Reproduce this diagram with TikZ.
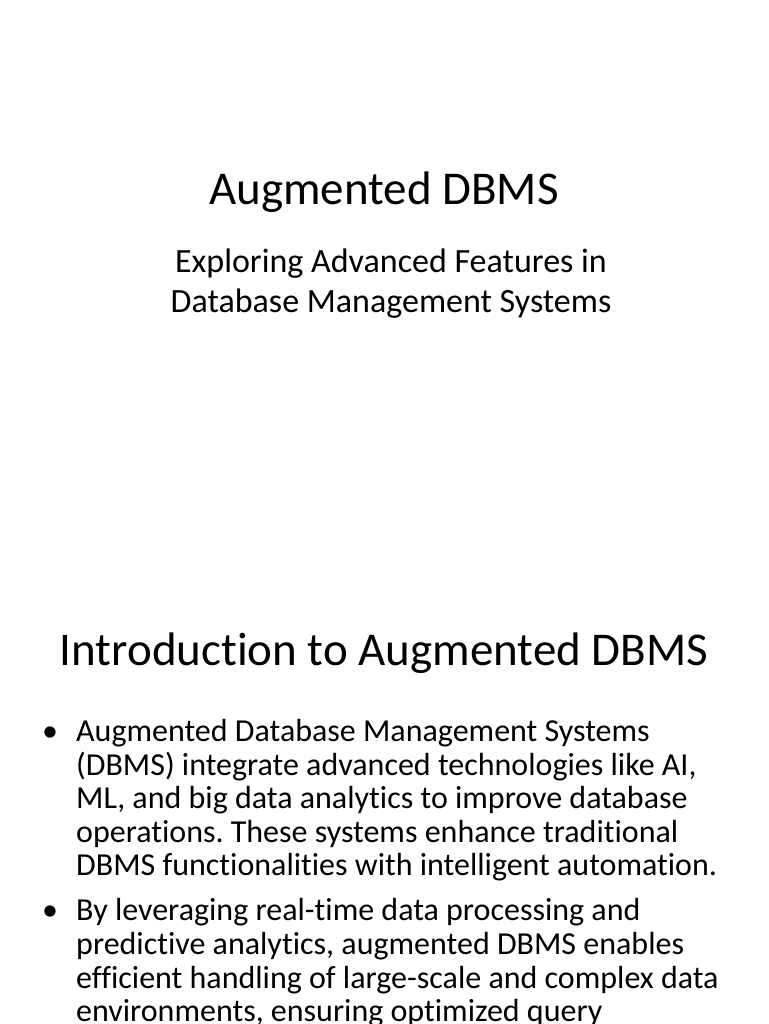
\documentclass[tikz,border=0pt]{standalone}
\usepackage{fontspec}
\setmainfont{Carlito}[Ligatures=NoCommon]
\frenchspacing
\begin{document}
\begin{tikzpicture}[x=1pt,y=-1pt,
  ttl/.style={anchor=base,font=\fontsize{47}{52}\selectfont},
  sub/.style={anchor=base,font=\fontsize{34}{40}\selectfont},
  bl/.style={anchor=base west,inner sep=0,font=\fontsize{32}{36}\selectfont}]
\useasboundingbox (0,0) rectangle (768,1024);
\clip (0,0) rectangle (768,1024);
\fill[white] (0,0) rectangle (768,1024);
\node[ttl] (t1) at (384,205) {Augmented DBMS};
\node[sub] (s1) at (391,272) {Exploring Advanced Features in};
\node[sub] (s2) at (391,312) {Database Management Systems};
\node[ttl] (t2) at (384,665) {Introduction to Augmented DBMS};
\node[bl] (b1) at (42,741) {•};
\node[bl] (l1) at (76,741) {Augmented Database Management Systems};
\node[bl] (l2) at (76,775) {(DBMS) integrate advanced technologies like AI,};
\node[bl] (l3) at (76,808) {ML, and big data analytics to improve database};
\node[bl] (l4) at (76,842) {operations. These systems enhance traditional};
\node[bl] (l5) at (76,875) {DBMS functionalities with intelligent automation.};
\node[bl] (b2) at (42,920) {•};
\node[bl] (m1) at (76,920) {By leveraging real-time data processing and};
\node[bl] (m2) at (76,954) {predictive analytics, augmented DBMS enables};
\node[bl] (m3) at (76,988) {efficient handling of large-scale and complex data};
\node[bl] (m4) at (76,1021) {environments, ensuring optimized query};
\end{tikzpicture}
\end{document}
